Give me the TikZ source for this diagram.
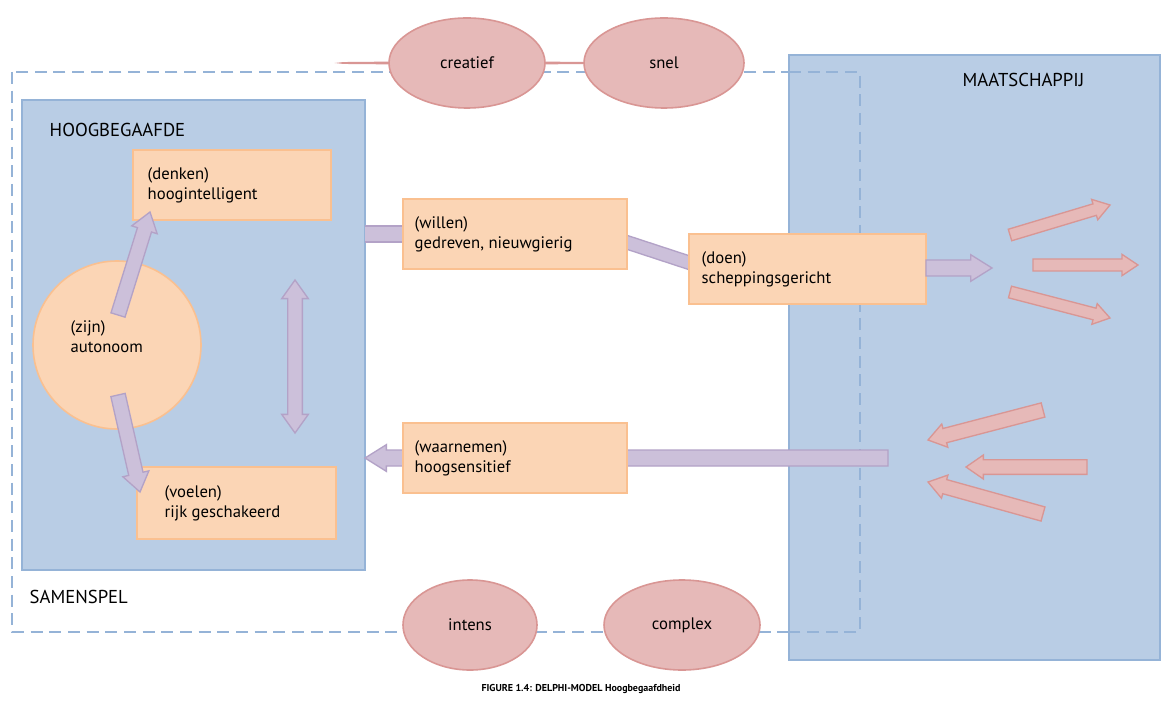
\documentclass[tikz,border=0pt]{standalone}
\usepackage{fontspec}
\setmainfont{PT Sans}
\usetikzlibrary{calc}
\definecolor{bluef}{HTML}{B9CDE5}\definecolor{blued}{HTML}{95B3D7}
\definecolor{pinkf}{HTML}{E6B9B8}\definecolor{pinkd}{HTML}{D99694}
\definecolor{orf}{HTML}{FBD5B5}\definecolor{ord}{HTML}{FAC090}
\definecolor{purf}{HTML}{CCC0DA}\definecolor{purd}{HTML}{B3A2C7}
\newcommand\fatarr[6]{% style, A, B, w, hw, h
\coordinate (H) at ($(#3)!#6!(#2)$);
\draw[#1] ($(#2)!#4!90:(#3)$) -- ($(H)!#4!-90:(#2)$) -- ($(H)!#5!-90:(#2)$) -- (#3)
 -- ($(H)!#5!90:(#2)$) -- ($(H)!#4!90:(#2)$) -- ($(#2)!#4!-90:(#3)$) -- cycle;}
\newcommand\dblarr[6]{%
\coordinate (H1) at ($(#3)!#6!(#2)$);\coordinate (H2) at ($(#2)!#6!(#3)$);
\draw[#1] (#2) -- ($(H2)!#5!90:(#3)$) -- ($(H2)!#4!90:(#3)$) -- ($(H1)!#4!-90:(#2)$) -- ($(H1)!#5!-90:(#2)$) -- (#3)
 -- ($(H1)!#5!90:(#2)$) -- ($(H1)!#4!90:(#2)$) -- ($(H2)!#4!-90:(#3)$) -- ($(H2)!#5!-90:(#3)$) -- cycle;}
\begin{document}
\begin{tikzpicture}[x=0.75pt,y=-0.75pt,
 big/.style={fill=bluef,draw=blued,line width=1.5pt},
 ell/.style={ellipse,fill=pinkf,draw=pinkd,line width=1.2pt},
 box/.style={fill=orf,draw=ord,line width=1.2pt},
 lab/.style={font=\fontsize{12.5}{15}\selectfont,align=left,anchor=west},
 pa/.style={fill=purf,draw=purd,line width=1pt},
 ra/.style={fill=pinkf,draw=pinkd,line width=1pt}]
\usetikzlibrary{shapes.geometric}
\useasboundingbox[fill=white] (0,0) rectangle (1176,705);
\draw[blued,dashed,dash pattern=on 9pt off 5pt,line width=1.2pt] (12,72) rectangle (860,632);
\draw[big] (22,100) rectangle (365,570);
\fill[bluef] (789,55) rectangle (1160,660);
\draw[blued,dashed,dash pattern=on 9pt off 5pt,line width=1.2pt] (789,72) -- (860,72) -- (860,632) -- (789,632);
\draw[blued,line width=1.5pt] (789,55) rectangle (1160,660);
\node[lab,font=\fontsize{14}{16}\selectfont] (hb) at (45,130) {HOOGBEGAAFDE};
\node[lab,font=\fontsize{14}{16}\selectfont] (ms) at (958,80) {MAATSCHAPPIJ};
\node[lab,font=\fontsize{14}{16}\selectfont] (sp) at (25,597) {SAMENSPEL};
\node[ell,minimum width=156\pgflinewidth,inner sep=0] (cr) at (467,63) {};
\draw[ell,fill=pinkf] (467,63) ellipse [x radius=78,y radius=45];
\draw[ell] (664,63) ellipse [x radius=80,y radius=45];
\draw[ell] (470,625) ellipse [x radius=67,y radius=45];
\draw[ell] (682,625) ellipse [x radius=78,y radius=45];
\node[lab,anchor=center] (t1) at (467,63) {creatief};
\node[lab,anchor=center] (t2) at (664,63) {snel};
\node[lab,anchor=center] (t3) at (470,625) {intens};
\node[lab,anchor=center] (t4) at (682,625) {complex};
% purple connectors
\coordinate (a1) at (365,233); \coordinate (a2) at (405,233);
\fill[purf] (365,226) rectangle (404,242); \draw[purd,line width=1pt] (365,226) -- (404,226) (365,242) -- (404,242);
\draw[pa] (626,235) -- (690,256) -- (690,270) -- (626,249) -- cycle;
\coordinate (wa) at (888,458); \coordinate (wb) at (365,458);
\fatarr{pa}{wa}{wb}{6pt}{10pt}{16pt}
\draw[box] (137,467) rectangle (336,539);
\node[lab] (voe) at (160,503) {(voelen)\\rijk geschakeerd};
\draw[box] (133,150) rectangle (331,220);
\node[lab] (den) at (143,185) {(denken)\\hoogintelligent};
\draw[box] (403,199) rectangle (627,269);
\node[lab] (wil) at (410,234) {(willen)\\gedreven, nieuwgierig};
\draw[box] (689,234) rectangle (926,304);
\node[lab] (doe) at (697,269) {(doen)\\scheppingsgericht};
\draw[box] (403,423) rectangle (627,493);
\node[lab] (waa) at (410,458) {(waarnemen)\\hoogsensitief};
\draw[box] (117,345) circle (84);
\node[lab] (aut) at (66,337) {(zijn)\\autonoom};
\coordinate (c1) at (118,315); \coordinate (c2) at (150,212);
\fatarr{pa}{c1}{c2}{5.5pt}{10pt}{14pt}
\coordinate (c3) at (118,395); \coordinate (c4) at (140,492);
\fatarr{pa}{c3}{c4}{5.5pt}{10pt}{14pt}
\coordinate (d1) at (295,280); \coordinate (d2) at (295,433);
\dblarr{pa}{d1}{d2}{5.5pt}{10pt}{14pt}
\coordinate (o1) at (926,268); \coordinate (o2) at (992,268);
\fatarr{pa}{o1}{o2}{6pt}{10pt}{16pt}
% red arrows
\coordinate (r1) at (1010,235); \coordinate (r2) at (1110,205);
\coordinate (r3) at (1033,265); \coordinate (r4) at (1138,265);
\coordinate (r5) at (1010,292); \coordinate (r6) at (1110,318);
\coordinate (r7) at (1043,410); \coordinate (r8) at (928,440);
\coordinate (r9) at (1087,467); \coordinate (r10) at (966,467);
\coordinate (r11) at (1043,514); \coordinate (r12) at (928,482);
\fatarr{ra}{r1}{r2}{4.5pt}{8pt}{12pt}
\fatarr{ra}{r3}{r4}{4.5pt}{8pt}{12pt}
\fatarr{ra}{r5}{r6}{4.5pt}{8pt}{12pt}
\fatarr{ra}{r7}{r8}{5.5pt}{9pt}{13pt}
\fatarr{ra}{r9}{r10}{5.5pt}{9pt}{13pt}
\fatarr{ra}{r11}{r12}{5.5pt}{9pt}{13pt}
\node[font=\bfseries\fontsize{7.5}{9}\selectfont] (cap) at (581,689) {FIGURE 1.4: DELPHI-MODEL Hoogbegaafdheid};
\end{tikzpicture}
\end{document}
